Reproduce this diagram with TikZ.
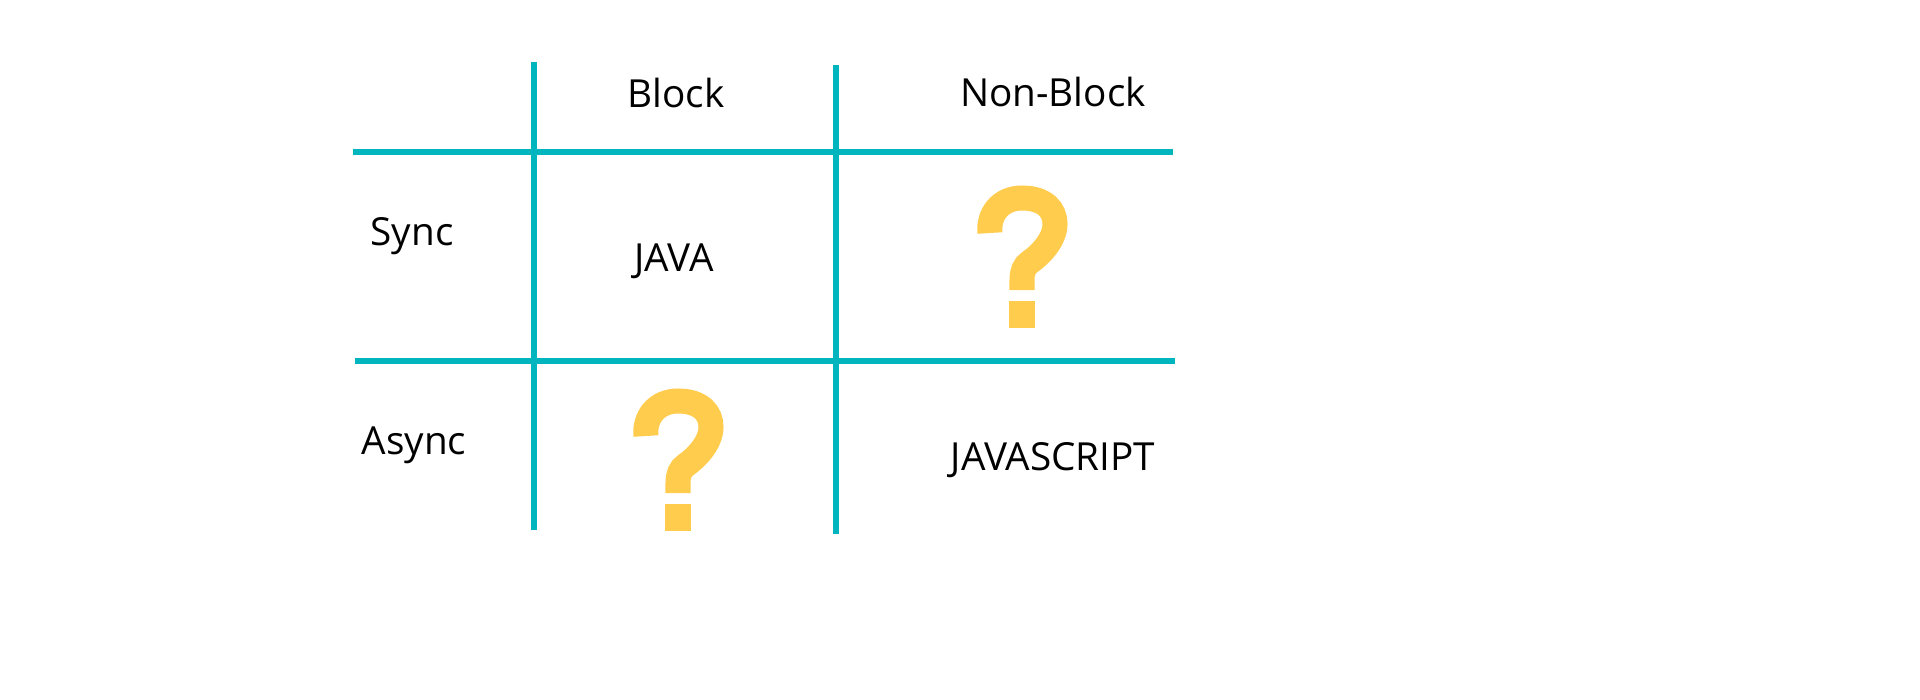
\documentclass[tikz,border=0pt]{standalone}
\usepackage{fontspec}
\setmainfont{Open Sans}
\definecolor{teal1}{HTML}{00B5BD}
\definecolor{yel}{HTML}{FFCC4D}
\begin{document}
\begin{tikzpicture}[x=0.01cm,y=-0.01cm,
  grid/.style={teal1,line width=0.065cm},
  lbl/.style={font=\fontsize{11pt}{13pt}\selectfont},
  qhook/.style={yel,line width=0.25cm},
  qdot/.style={fill=yel,draw=none}]
\useasboundingbox (0,0) rectangle (1920,700);
\draw[grid] (534,62) -- (534,530);
\draw[grid] (836,65) -- (836,534);
\draw[grid] (353,152) -- (1173,152);
\draw[grid] (355,361) -- (1175,361);
\node[lbl] (block) at (676,93) {Block};
\node[lbl] (nonblock) at (1053,92) {Non-Block};
\node[lbl] (sync) at (412,236) {Sync};
\node[lbl] (java) at (674,261) {JAVA};
\node[lbl] (async) at (414,445) {Async};
\node[lbl] (js) at (1053,460) {JAVASCRIPT};
\foreach \dx/\dy in {0/0,-344/203}{
\begin{scope}[shift={(\dx,\dy)}]
\draw[qhook] (990,233) .. controls (988,215) and (1000,198) .. (1022,198)
  .. controls (1045,198) and (1055,210) .. (1055,224)
  .. controls (1055,240) and (1040,255) .. (1030,262)
  .. controls (1024,266) and (1022,272) .. (1022,280) -- (1022,290);
\fill[qdot] (1009,301) rectangle (1035,328);
\end{scope}}
\end{tikzpicture}
\end{document}
